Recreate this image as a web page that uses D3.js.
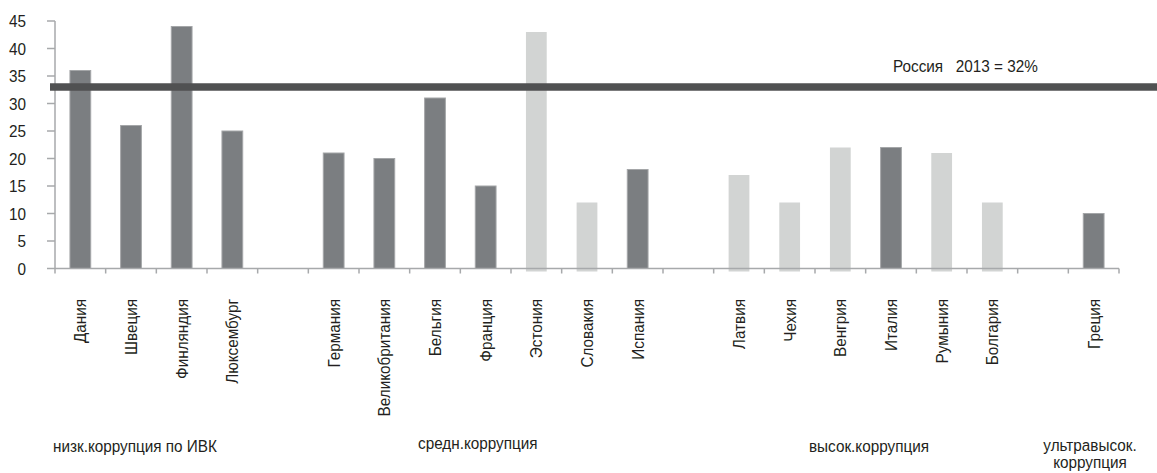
<!DOCTYPE html>
<html><head><meta charset="utf-8">
<script src="https://cdn.jsdelivr.net/npm/d3@7"></script>
<style>
html,body{margin:0;padding:0;background:#fff;}
svg text{font-family:"Liberation Sans",Arial,sans-serif;fill:#231f20;}
</style></head>
<body><svg id="c" width="1157" height="473"></svg>
<script>
const categories = ["Дания","Швеция","Финляндия","Люксембург","",
  "Германия","Великобритания","Бельгия","Франция","Эстония","Словакия","Испания"," ",
  "Латвия","Чехия","Венгрия","Италия","Румыния","Болгария","  ","Греция"];
const values = [36,26,44,25,null,21,20,31,15,43,12,18,null,17,12,22,22,21,12,null,10];
const shade = ["d","d","d","d",null,"d","d","d","d","l","l","d",null,"l","l","l","d","l","l",null,"d"];
const yTicks = [0,5,10,15,20,25,30,35,40,45];
const russiaValue = 33;
const russiaLabel = "Россия   2013 = 32%";
const groupLabels = [
  {lines:["низк.коррупция по ИВК"], x:53, y:452, anchor:"start"},
  {lines:["средн.коррупция"], x:418, y:449, anchor:"start"},
  {lines:["высок.коррупция"], x:809, y:452, anchor:"start"},
  {lines:["ультравысок.","коррупция"], x:1090, y:451, anchor:"middle"}
];

const SX = 0.9; // condensed look
const FS = 17;
const svg = d3.select("#c");
const x = d3.scaleBand().domain(categories).range([55,1119]).paddingInner(0.59).paddingOuter(0.295);
const y = d3.scaleLinear().domain([0,45]).range([268.5,21]);
const axisCol = "#a7a9ab";
const step = x.step();

// bars
const data = categories.map((c,i)=>({c,v:values[i],s:shade[i]})).filter(d=>d.v!=null);
svg.append("g").selectAll("rect").data(data).join("rect")
  .attr("x",d=>x(d.c)).attr("width",x.bandwidth())
  .attr("y",d=>y(d.v))
  .attr("height",d=>y(0)-y(d.v)+(d.s==="l"?3:0))
  .attr("fill",d=>d.s==="d"?"#7b7e81":"#d2d4d3")
  .attr("stroke",d=>d.s==="d"?"#a4a6a8":"none")
  .attr("stroke-width",1);

// y axis
const ya = svg.append("g");
ya.append("line").attr("x1",55).attr("x2",55).attr("y1",y(45)).attr("y2",y(0)).attr("stroke",axisCol).attr("stroke-width",1.5);
ya.selectAll("line.t").data(yTicks).join("line").attr("class","t")
  .attr("x1",47).attr("x2",55).attr("y1",d=>y(d)).attr("y2",d=>y(d)).attr("stroke",axisCol).attr("stroke-width",1.5);
ya.selectAll("text").data(yTicks).join("text")
  .attr("transform",d=>`translate(26,${y(d)}) scale(${SX},1)`)
  .attr("dy","0.36em").attr("text-anchor","end")
  .attr("font-size",FS).text(d=>d);

// x axis
const xa = svg.append("g");
xa.append("line").attr("x1",55).attr("x2",1119).attr("y1",y(0)).attr("y2",y(0)).attr("stroke",axisCol).attr("stroke-width",1.5);
const bounds = categories.map(c=>x(c)+x.bandwidth()/2-step/2).concat([x(categories[categories.length-1])+x.bandwidth()/2+step/2]);
xa.selectAll("line.t").data(bounds).join("line").attr("class","t")
  .attr("x1",d=>d).attr("x2",d=>d).attr("y1",y(0)).attr("y2",y(0)+5).attr("stroke",axisCol).attr("stroke-width",1.5);
xa.selectAll("text").data(categories.filter(c=>c.trim()!=="")).join("text")
  .attr("transform",d=>`translate(${x(d)+x.bandwidth()/2},299) rotate(-90) scale(${SX},1)`)
  .attr("dy","0.36em").attr("text-anchor","end").attr("font-size",FS).text(d=>d);

// Russia line
svg.append("line").attr("x1",50).attr("x2",1157).attr("y1",y(russiaValue)).attr("y2",y(russiaValue))
  .attr("stroke","#505152").attr("stroke-width",7.5);
svg.append("text").attr("transform",`translate(893,72) scale(${SX},1)`).attr("font-size",FS)
  .attr("xml:space","preserve").style("white-space","pre").text(russiaLabel);

// group labels
groupLabels.forEach(g=>{
  const t = svg.append("text").attr("transform",`translate(${g.x},${g.y}) scale(${SX},1)`)
    .attr("text-anchor",g.anchor).attr("font-size",FS);
  g.lines.forEach((l,i)=>t.append("tspan").attr("x",0).attr("dy",i?17:0).text(l));
});
</script></body></html>
